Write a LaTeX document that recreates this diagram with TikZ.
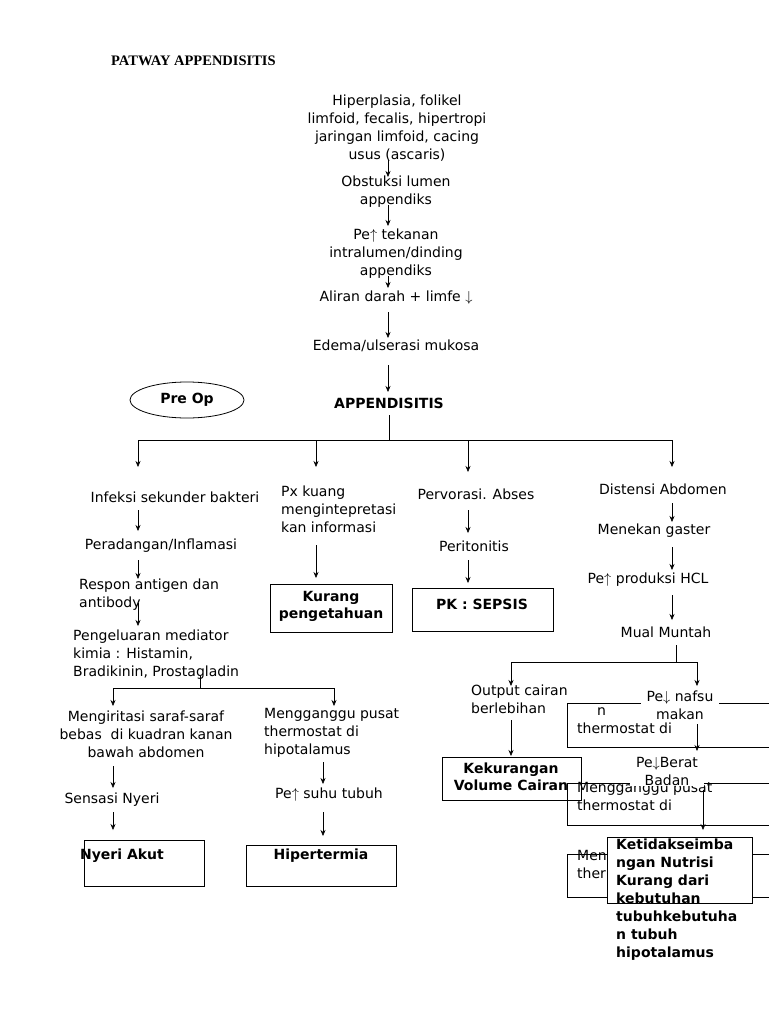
\documentclass[tikz,border=0pt]{standalone}
\usepackage{fontspec}
\setmainfont{DejaVu Sans}
\newfontfamily\titlefont{Liberation Serif}
\usetikzlibrary{arrows.meta,shapes.geometric}
\begin{document}
\begin{tikzpicture}[x=1pt,y=-1pt,
  every node/.style={font=\fontsize{14}{18}\selectfont, inner sep=1pt},
  t/.style={align=center},
  tl/.style={align=left, anchor=north west},
  bf/.style={font=\fontsize{14}{17}\selectfont\bfseries},
  box/.style={draw, thick},
  arr/.style={-{Stealth[length=6pt,width=5pt]}, semithick},
  ln/.style={semithick}]
\useasboundingbox (0,0) rectangle (768,1024);
\node[anchor=west, font=\titlefont\fontsize{14.5}{16}\selectfont\bfseries] (title) at (110,61) {PATWAY APPENDISITIS};

% main chain
\node[t] (hip) at (397,128) {Hiperplasia, folikel\\limfoid, fecalis, hipertropi\\jaringan limfoid, cacing\\usus (ascaris)};
\node[t] (obs) at (396,192) {Obstuksi lumen\\appendiks};
\node[t] (tek) at (396,254) {Pe$\uparrow$ tekanan\\intralumen/dinding\\appendiks};
\node[t] (ali) at (396,298) {Aliran darah + limfe $\downarrow$};
\node[t] (ede) at (396,346) {Edema/ulserasi mukosa};
\node[t, bf] (app) at (389,403) {APPENDISITIS};
\node[draw, ellipse, thick, minimum width=114pt, minimum height=36pt, bf] (pre) at (187,400) {Pre Op};

\coordinate (a1) at (388,160); \coordinate (a2) at (388,177);
\draw[arr] (a1) -- (a2);
\coordinate (b1) at (388,205); \coordinate (b2) at (388,226);
\draw[arr] (b1) -- (b2);
\coordinate (c1) at (388,276); \coordinate (c2) at (388,288);
\draw[arr] (c1) -- (c2);
\coordinate (d1) at (388,312); \coordinate (d2) at (388,338);
\draw[arr] (d1) -- (d2);
\coordinate (e1) at (388,365); \coordinate (e2) at (388,392);
\draw[arr] (e1) -- (e2);

\coordinate (s0) at (389,415); \coordinate (s1) at (389,440);
\coordinate (h1) at (138,440); \coordinate (h2) at (316,440);
\coordinate (h3) at (468,440); \coordinate (h4) at (672,440);
\draw[ln] (s0) -- (s1) (h1) -- (h4);
\coordinate (h1e) at (138,467); \coordinate (h2e) at (316,467);
\coordinate (h3e) at (468,472); \coordinate (h4e) at (672,467);
\draw[arr] (h1) -- (h1e);
\draw[arr] (h2) -- (h2e);
\draw[arr] (h3) -- (h3e);
\draw[arr] (h4) -- (h4e);

% branch 1
\node[t] (inf) at (175,497) {Infeksi sekunder bakteri};
\node[t] (per) at (161,546) {Peradangan/Inflamasi};
\node[tl] (res) at (78,578) {Respon antigen dan\\antibody};
\node[tl] (pen) at (72,629) {Pengeluaran mediator\\kimia : Histamin,\\Bradikinin, Prostagladin};
\coordinate (f1) at (138,510); \coordinate (f2) at (138,531);
\draw[arr] (f1) -- (f2);
\coordinate (g1) at (138,560); \coordinate (g2) at (138,579);
\draw[arr] (g1) -- (g2);
\coordinate (i1) at (138,603); \coordinate (i2) at (138,626);
\draw[arr] (i1) -- (i2);
\coordinate (j0) at (200,676); \coordinate (j1) at (200,688);
\coordinate (jl) at (113,688); \coordinate (jr) at (334,688);
\draw[ln] (j0) -- (j1) (jl) -- (jr);
\coordinate (jle) at (113,706); \coordinate (jre) at (334,706);
\draw[arr] (jl) -- (jle);
\draw[arr] (jr) -- (jre);

\node[t] (mgi) at (146,734) {Mengiritasi saraf-saraf\\bebas\ \ di kuadran kanan\\bawah abdomen};
\node[t] (sen) at (112,800) {Sensasi Nyeri};
\node[box, minimum width=120pt, minimum height=46pt] (nye) at (144,863) {};
\node[bf] (nyet) at (122,856) {Nyeri Akut};
\coordinate (k1) at (113,766); \coordinate (k2) at (113,788);
\draw[arr] (k1) -- (k2);
\coordinate (l1) at (113,812); \coordinate (l2) at (113,830);
\draw[arr] (l1) -- (l2);

\node[tl] (mgg) at (263,707) {Mengganggu pusat\\thermostat di\\hipotalamus};
\node[t] (suh) at (329,795) {Pe$\uparrow$ suhu tubuh};
\node[box, minimum width=150pt, minimum height=41pt] (hipt) at (321,865.5) {};
\node[bf] (hiptt) at (321,856) {Hipertermia};
\coordinate (m1) at (323,762); \coordinate (m2) at (323,784);
\draw[arr] (m1) -- (m2);
\coordinate (n1) at (323,812); \coordinate (n2) at (323,836);
\draw[arr] (n1) -- (n2);

% branch 2
\node[tl] (px) at (280,485) {Px kuang\\mengintepretasi\\kan informasi};
\node[box, minimum width=122pt, minimum height=48pt] (kur) at (331,608) {};
\node[t, bf] (kurt) at (331,606) {Kurang\\pengetahuan};
\coordinate (o1) at (316,545); \coordinate (o2) at (316,578);
\draw[arr] (o1) -- (o2);

% branch 3
\node[t] (pv) at (476,494) {Pervorasi. Abses};
\node[t] (pt) at (474,546) {Peritonitis};
\node[box, minimum width=141pt, minimum height=43pt] (sep) at (482.5,609.5) {};
\node[bf] (sept) at (482,604) {PK : SEPSIS};
\coordinate (p1) at (468,510); \coordinate (p2) at (468,533);
\draw[arr] (p1) -- (p2);
\coordinate (q1) at (468,560); \coordinate (q2) at (468,583);
\draw[arr] (q1) -- (q2);

% branch 4
\node[t] (dis) at (663,489) {Distensi Abdomen};
\node[t] (mek) at (654,531) {Menekan gaster};
\node[t] (hcl) at (648,580) {Pe$\uparrow$ produksi HCL};
\node[t] (mua) at (666,632) {Mual Muntah};
\coordinate (r1) at (672,503); \coordinate (r2) at (672,522);
\draw[arr] (r1) -- (r2);
\coordinate (u1) at (672,547); \coordinate (u2) at (672,570);
\draw[arr] (u1) -- (u2);
\coordinate (v1) at (672,595); \coordinate (v2) at (672,620);
\draw[arr] (v1) -- (v2);
\coordinate (w0) at (676,645); \coordinate (w1) at (676,662);
\coordinate (wl) at (511,662); \coordinate (wr) at (697,662);
\draw[ln] (w0) -- (w1) (wl) -- (wr);
\coordinate (wle) at (511,686); \coordinate (wre) at (697,686);
\draw[arr] (wl) -- (wle);
\draw[arr] (wr) -- (wre);

% stray boxes behind
\draw[ln] (567,703) rectangle (769,747);
\draw[ln] (567,783) rectangle (769,825);
\draw[ln] (567,854) rectangle (769,897);
\node[tl] (sn) at (596,706) {n};
\node[tl] (st1) at (576,722) {thermostat di};
\node[tl] (sm2) at (576,781) {Mengganggu pusat\\thermostat di};
\node[tl] (sm3) at (576,849) {Men\\ther};

\node[tl] (out) at (470,684) {Output cairan\\berlebihan};
\node[box, minimum width=139pt, minimum height=43pt] (kvc) at (511.5,778.5) {};
\node[t, bf] (kvct) at (511,777) {Kekurangan\\Volume Cairan};
\coordinate (x1) at (511,720); \coordinate (x2) at (511,756);
\draw[arr] (x1) -- (x2);

\node[t, fill=white, inner xsep=6pt] (naf) at (680,705) {Pe$\downarrow$ nafsu\\makan};
\node[t, fill=white, inner xsep=6pt] (ber) at (667,771) {Pe$\downarrow$Berat\\Badan};
\coordinate (y1) at (697,724); \coordinate (y2) at (697,751);
\draw[arr] (y1) -- (y2);
\coordinate (z1) at (703,790); \coordinate (z2) at (703,830);
\draw[arr] (z1) -- (z2);

\node[box, fill=white, minimum width=145pt, minimum height=66pt] (ket) at (679.5,870) {};
\node[tl, font=\fontsize{14}{18}\selectfont\bfseries] (kett) at (615,838) {Ketidakseimba\\ngan Nutrisi\\Kurang dari\\kebutuhan\\tubuhkebutuha\\n tubuh\\hipotalamus};
\end{tikzpicture}
\end{document}
